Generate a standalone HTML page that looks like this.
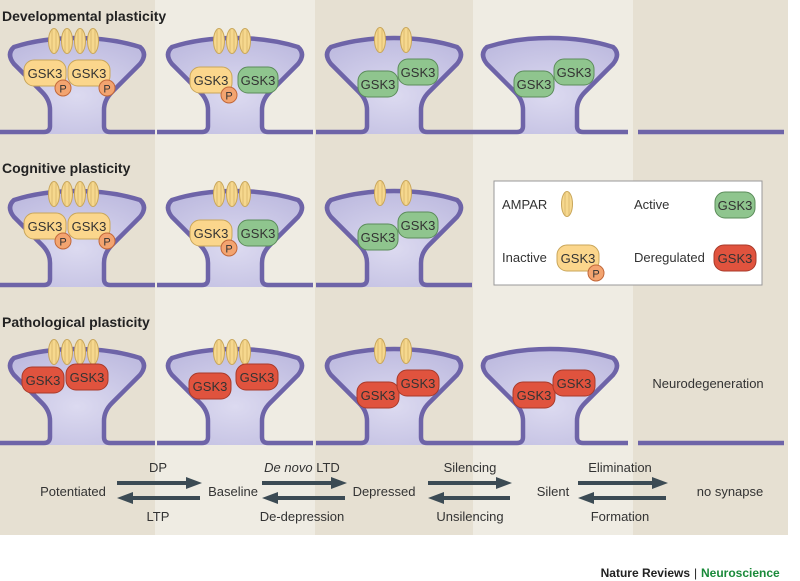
<!DOCTYPE html>
<html><head><meta charset="utf-8"><style>
html,body{margin:0;padding:0;background:#fff;}
svg{display:block;}
text{font-family:"Liberation Sans",sans-serif;}
</style></head><body>
<svg width="800" height="581" viewBox="0 0 800 581" xmlns="http://www.w3.org/2000/svg">
<defs>
<radialGradient id="sg" cx="0.5" cy="0.6" r="0.6">
<stop offset="0" stop-color="#dcdaf0"/><stop offset="1" stop-color="#bfbce0"/>
</radialGradient>
<g id="spine">
<path d="M-78,132 H-33 Q-27,132 -27,126 V110 Q-27,100 -35,92 L-63,64 Q-71,54 -63,47 Q-35,38 0,38 Q35,38 63,47 Q71,54 63,64 L35,92 Q27,100 27,110 V126 Q27,132 33,132 H78 V134 H-78Z" fill="url(#sg)"/>
<path d="M-78,132 H-33 Q-27,132 -27,126 V110 Q-27,100 -35,92 L-63,64 Q-71,54 -63,47 Q-35,38 0,38 Q35,38 63,47 Q71,54 63,64 L35,92 Q27,100 27,110 V126 Q27,132 33,132 H78" fill="none" stroke="#6e64a8" stroke-width="4.5"/>
</g>
<g id="amp"><ellipse cx="0" cy="0" rx="5.5" ry="12.5" fill="#f6d88e" stroke="#c9a65a" stroke-width="1"/><path d="M-2,-11 V11 M2,-11 V11" stroke="#d8b66a" stroke-width="0.8"/></g>
<g id="inact"><rect x="-21" y="-13" width="42" height="26" rx="10" fill="#fbd68c" stroke="#c9a65a"/><text x="0" y="5" font-size="13" text-anchor="middle" fill="#333">GSK3</text><circle cx="18" cy="15" r="8" fill="#f3a470" stroke="#c2683a"/><text x="18" y="19.5" font-size="11" text-anchor="middle" fill="#333">P</text></g>
<g id="act"><rect x="-20" y="-13" width="40" height="26" rx="10" fill="#8fc58e" stroke="#5b8c5a"/><text x="0" y="5" font-size="13" text-anchor="middle" fill="#333">GSK3</text></g>
<g id="red"><rect x="-21" y="-13" width="42" height="26" rx="10" fill="#e0533e" stroke="#a83a2a"/><text x="0" y="5" font-size="13" text-anchor="middle" fill="#333">GSK3</text></g>
</defs>
<rect x="0" y="0" width="155" height="535" fill="#e6e0d2"/>
<rect x="155" y="0" width="160" height="535" fill="#efece3"/>
<rect x="315" y="0" width="158" height="535" fill="#e6e0d2"/>
<rect x="473" y="0" width="160" height="535" fill="#efece3"/>
<rect x="633" y="0" width="155" height="535" fill="#e6e0d2"/>
<text x="2" y="21" font-size="14" font-weight="bold" fill="#222">Developmental plasticity</text>
<text x="2" y="173" font-size="14" font-weight="bold" fill="#222">Cognitive plasticity</text>
<text x="2" y="327" font-size="14" font-weight="bold" fill="#222">Pathological plasticity</text>

<g transform="translate(77,0)"><use href="#spine"/>
<use href="#amp" x="-23" y="41"/><use href="#amp" x="-10" y="41"/><use href="#amp" x="3" y="41"/><use href="#amp" x="16" y="41"/>
<use href="#inact" x="-32" y="73"/><use href="#inact" x="12" y="73"/></g>
<g transform="translate(235,0)"><use href="#spine"/>
<use href="#amp" x="-16" y="41"/><use href="#amp" x="-3" y="41"/><use href="#amp" x="10" y="41"/>
<use href="#inact" x="-24" y="80"/><use href="#act" x="23" y="80"/></g>
<g transform="translate(394,0)"><use href="#spine"/>
<use href="#amp" x="-14" y="40"/><use href="#amp" x="12" y="40"/>
<use href="#act" x="-16" y="84"/><use href="#act" x="24" y="72"/></g>
<g transform="translate(550,0)"><use href="#spine"/>
<use href="#act" x="-16" y="84"/><use href="#act" x="24" y="72"/></g>
<line x1="638" y1="132" x2="784" y2="132" stroke="#6e64a8" stroke-width="4.5"/>

<g transform="translate(77,153)"><use href="#spine"/>
<use href="#amp" x="-23" y="41"/><use href="#amp" x="-10" y="41"/><use href="#amp" x="3" y="41"/><use href="#amp" x="16" y="41"/>
<use href="#inact" x="-32" y="73"/><use href="#inact" x="12" y="73"/></g>
<g transform="translate(235,153)"><use href="#spine"/>
<use href="#amp" x="-16" y="41"/><use href="#amp" x="-3" y="41"/><use href="#amp" x="10" y="41"/>
<use href="#inact" x="-24" y="80"/><use href="#act" x="23" y="80"/></g>
<g transform="translate(394,153)"><use href="#spine"/>
<use href="#amp" x="-14" y="40"/><use href="#amp" x="12" y="40"/>
<use href="#act" x="-16" y="84"/><use href="#act" x="24" y="72"/></g>

<rect x="494" y="181" width="268" height="104" fill="#fff" stroke="#999" stroke-width="1"/>
<text x="502" y="209" font-size="13" fill="#333">AMPAR</text>
<use href="#amp" x="567" y="204"/>
<text x="634" y="209" font-size="13" fill="#333">Active</text>
<use href="#act" x="735" y="205"/>
<text x="502" y="262" font-size="13" fill="#333">Inactive</text>
<use href="#inact" x="578" y="258"/>
<text x="634" y="262" font-size="13" fill="#333">Deregulated</text>
<use href="#red" x="735" y="258"/>

<g transform="translate(77,311)"><use href="#spine"/>
<use href="#amp" x="-23" y="41"/><use href="#amp" x="-10" y="41"/><use href="#amp" x="3" y="41"/><use href="#amp" x="16" y="41"/>
<use href="#red" x="-34" y="69"/><use href="#red" x="10" y="66"/></g>
<g transform="translate(235,311)"><use href="#spine"/>
<use href="#amp" x="-16" y="41"/><use href="#amp" x="-3" y="41"/><use href="#amp" x="10" y="41"/>
<use href="#red" x="-25" y="75"/><use href="#red" x="22" y="66"/></g>
<g transform="translate(394,311)"><use href="#spine"/>
<use href="#amp" x="-14" y="40"/><use href="#amp" x="12" y="40"/>
<use href="#red" x="-16" y="84"/><use href="#red" x="24" y="72"/></g>
<g transform="translate(550,311)"><use href="#spine"/>
<use href="#red" x="-16" y="84"/><use href="#red" x="24" y="72"/></g>
<text x="708" y="388" font-size="13" text-anchor="middle" fill="#333">Neurodegeneration</text>
<line x1="638" y1="443" x2="784" y2="443" stroke="#6e64a8" stroke-width="4.5"/>

<g stroke="#3c4b54" stroke-width="4" fill="#3c4b54">
<line x1="117" y1="483" x2="192" y2="483"/><path d="M186,477 L202,483 L186,489Z" stroke="none"/>
<line x1="127" y1="498" x2="200" y2="498"/><path d="M133,492 L117,498 L133,504Z" stroke="none"/>
<line x1="262" y1="483" x2="337" y2="483"/><path d="M331,477 L347,483 L331,489Z" stroke="none"/>
<line x1="272" y1="498" x2="345" y2="498"/><path d="M278,492 L262,498 L278,504Z" stroke="none"/>
<line x1="428" y1="483" x2="502" y2="483"/><path d="M496,477 L512,483 L496,489Z" stroke="none"/>
<line x1="438" y1="498" x2="510" y2="498"/><path d="M444,492 L428,498 L444,504Z" stroke="none"/>
<line x1="578" y1="483" x2="658" y2="483"/><path d="M652,477 L668,483 L652,489Z" stroke="none"/>
<line x1="588" y1="498" x2="666" y2="498"/><path d="M594,492 L578,498 L594,504Z" stroke="none"/>
</g>
<g font-size="13" fill="#333" text-anchor="middle">
<text x="73" y="496">Potentiated</text>
<text x="233" y="496">Baseline</text>
<text x="384" y="496">Depressed</text>
<text x="553" y="496">Silent</text>
<text x="730" y="496">no synapse</text>
<text x="158" y="472">DP</text>
<text x="158" y="521">LTP</text>
<text x="302" y="472"><tspan font-style="italic">De novo</tspan> LTD</text>
<text x="302" y="521">De-depression</text>
<text x="470" y="472">Silencing</text>
<text x="470" y="521">Unsilencing</text>
<text x="620" y="472">Elimination</text>
<text x="620" y="521">Formation</text>
</g>
<text x="690" y="577" font-size="12" font-weight="bold" fill="#222" text-anchor="end">Nature Reviews</text>
<text x="694" y="577" font-size="12" fill="#222">|</text>
<text x="701" y="577" font-size="12" font-weight="bold" fill="#1a8a3a">Neuroscience</text>
</svg>
</body></html>
